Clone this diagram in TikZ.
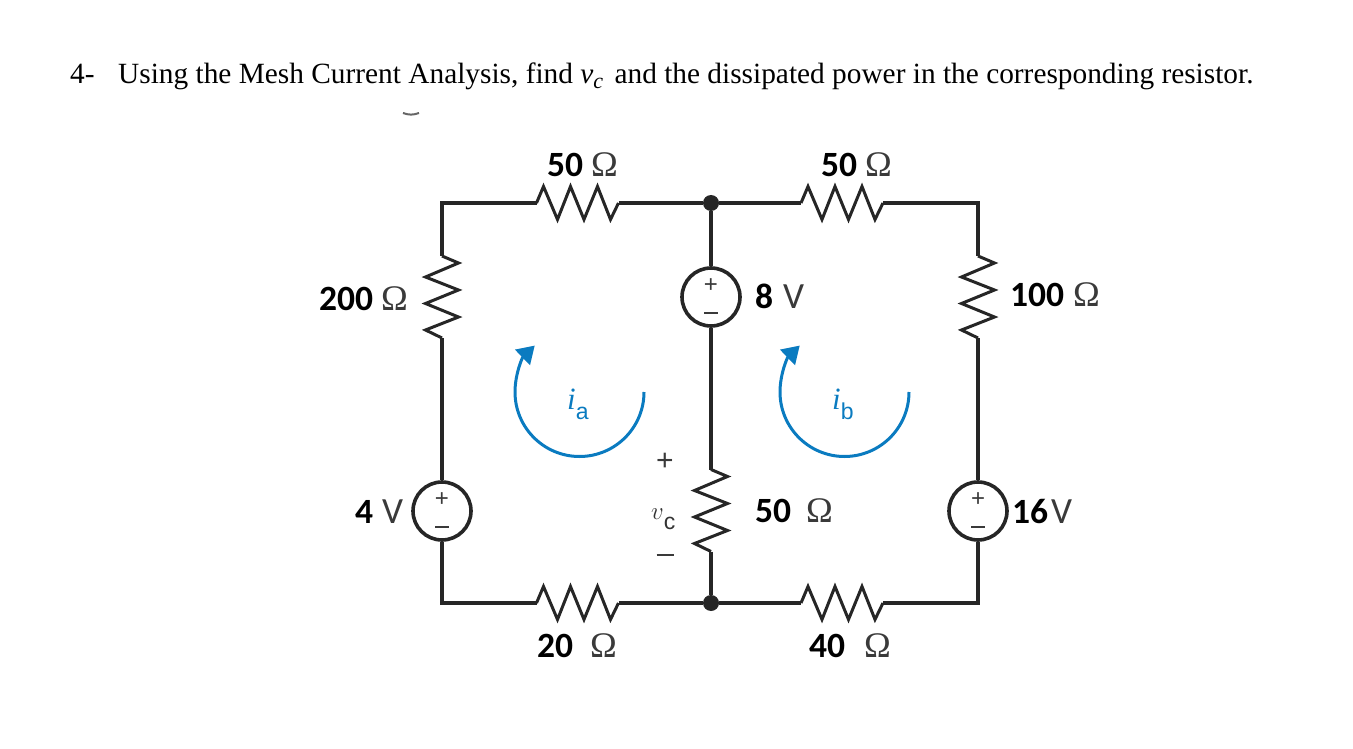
\documentclass[tikz,border=0pt]{standalone}
\usepackage{fontspec}
\setmainfont{Liberation Serif}
\newfontfamily\califont{Carlito}
\newfontfamily\helvfont{Liberation Sans}
\usetikzlibrary{arrows.meta}
\definecolor{meshblue}{HTML}{0A7BC0}
\definecolor{unitgray}{HTML}{3A3A3A}
\newcommand{\val}[1]{{\fontsize{35.5}{35}\califont\bfseries #1}}
\newcommand{\ohm}{{\fontsize{36}{36}\selectfont\color{unitgray}Ω}}
\newcommand{\volt}{{\fontsize{37}{37}\califont\color{unitgray}V}}
\newcommand{\meshlab}[2]{{\fontsize{31}{31}\selectfont\textit{#1}\raisebox{-10pt}{\fontsize{23}{23}\helvfont #2}}}
\tikzset{
  wire/.style={line width=3.4pt,black!85},
  fatwire/.style={line width=4.6pt,black!85},
  zig/.style={line width=3pt,black!85,line join=miter},
  src/.style={circle,draw=black!85,line width=3.6pt,fill=white,minimum size=58pt,inner sep=0pt},
  dot/.style={circle,fill=black!85,minimum size=16pt,inner sep=0pt},
  lab/.style={anchor=base west,inner sep=0pt},
  sign/.style={inner sep=0pt,font=\fontsize{24}{24}\helvfont,text=unitgray},
  mesh/.style={line width=3pt,meshblue,-{Triangle[length=17pt,width=21pt]}},
  res/.pic={
    \coordinate (-a) at (-41,0);
    \coordinate (-b) at (41,0);
    \draw[zig] (-a) -- (-34,-16.5) -- (-20,16.5) -- (-7,-16.5) -- (6.5,16.5) -- (20,-16.5) -- (33,16.5) -- (-b);
  }
}
\begin{document}
\begin{tikzpicture}[x=1pt,y=-1pt]
\useasboundingbox (0,0) rectangle (1353,749);
% corners and junctions
\coordinate (tl) at (442,203);
\coordinate (tr) at (978,203);
\coordinate (bl) at (442,603);
\coordinate (br) at (978,603);
\node[dot] (jt) at (711,203) {};
\node[dot] (jb) at (711,603) {};
% resistors
\pic (rta) at (577.5,203) {res};
\pic (rtb) at (842,203) {res};
\pic (rba) at (577.5,603) {res};
\pic (rbb) at (842,603) {res};
\pic[rotate=-90] (rl) at (442,297) {res};
\pic[rotate=-90] (rm) at (711,510.5) {res};
\pic[rotate=-90] (rr) at (978,297) {res};
% sources
\node[src] (sm) at (711,297) {};
\node[src] (sl) at (442,511) {};
\node[src] (sr) at (978,511) {};
\node[sign] (pm) at (711,286) {+};
\node[sign] (mm) at (711,313) {\rule{14pt}{2pt}};
\node[sign] (pl) at (442,500) {+};
\node[sign] (ml) at (442,527) {\rule{14pt}{2pt}};
\node[sign] (pr) at (978,500) {+};
\node[sign] (mr) at (978,527) {\rule{14pt}{2pt}};
% wires
\draw[fatwire] (rl-a) -- (tl) -- (rta-a);
\draw[wire] (rta-b) -- (jt) -- (rtb-a);
\draw[fatwire] (rtb-b) -- (tr) -- (rr-a);
\draw[wire] (rl-b) -- (sl);
\draw[wire] (rr-b) -- (sr);
\draw[wire] (sl) -- (bl) -- (rba-a);
\draw[wire] (rba-b) -- (jb) -- (rbb-a);
\draw[wire] (rbb-b) -- (br) -- (sr);
\draw[wire] (jt) -- (sm);
\draw[wire] (sm) -- (rm-a);
\draw[wire] (rm-b) -- (jb);
% mesh currents
\draw[mesh] (644,392) arc (0:226:64.5);
\draw[mesh] (909,392) arc (0:226:64.5);
\node[lab,text=meshblue] (ia) at (567,409) {\meshlab{i}{a}};
\node[lab,text=meshblue] (ib) at (832,409) {\meshlab{i}{b}};
% values
\node[lab] (ta) at (547,177) {\val{50}\hspace{8pt}\ohm};
\node[lab] (tb) at (821,177) {\val{50}\hspace{8pt}\ohm};
\node[lab] (tc) at (319,310) {\val{200}\hspace{8pt}\ohm};
\node[lab] (td) at (1010,306) {\val{100}\hspace{9pt}\ohm};
\node[lab] (te) at (755,522) {\val{50}\hspace{15pt}\ohm};
\node[lab] (tf) at (537,657) {\val{20}\hspace{17pt}\ohm};
\node[lab] (tg) at (809,657) {\val{40}\hspace{19pt}\ohm};
\node[lab] (vm) at (755,308) {\val{8}\hspace{10pt}\volt};
\node[lab] (vl) at (355,523) {\val{4}\hspace{9pt}\volt};
\node[lab] (vr) at (1012,523) {\val{16}\hspace{3pt}\volt};
% voltage across the middle resistor
\node[sign,font=\fontsize{30}{30}\helvfont] (vp) at (665,462) {+};
\node[sign] (vn) at (665,555) {\rule{17pt}{2pt}};
\node[lab,text=black!80] (vc) at (651,519) {\meshlab{\fontsize{36}{36}\selectfont$v$}{c}};
% title
\node[lab,font=\fontsize{29.35}{30}\selectfont] (num) at (70,84) {4-};
\node[lab,font=\fontsize{29.35}{30}\selectfont] (title) at (118,84) {Using the Mesh Current Analysis, find \textit{v}\raisebox{-5pt}{\fontsize{22}{22}\selectfont\textit{c}}\hspace{4pt} and the dissipated power in the corresponding resistor.};
\draw[line width=2pt,black!60] (403,113) to[bend right=20] (419,113);
\end{tikzpicture}
\end{document}
